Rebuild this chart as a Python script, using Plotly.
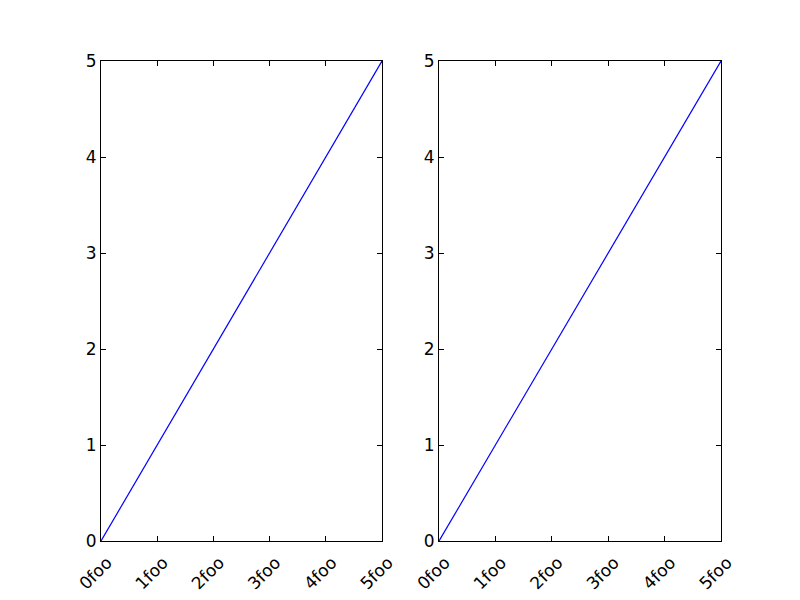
import plotly.graph_objects as go
from plotly.subplots import make_subplots

# Data
x_vals = [0, 1, 2, 3, 4, 5]
y_vals = [0, 1, 2, 3, 4, 5]
tick_labels = ['0foo', '1foo', '2foo', '3foo', '4foo', '5foo']

fig = make_subplots(rows=1, cols=2, horizontal_spacing=0.09)

for col in [1, 2]:
    fig.add_trace(go.Scatter(x=x_vals, y=y_vals, mode='lines',
                             line=dict(color='#0000ff', width=1.2),
                             showlegend=False), row=1, col=col)

axis_style = dict(showline=True, linecolor='black', linewidth=1.2, mirror='ticks',
                  ticks='inside', ticklen=5, tickcolor='black', tickwidth=1,
                  showgrid=False, zeroline=False,
                  tickfont=dict(family='DejaVu Sans', size=17, color='black'))

for col in [1, 2]:
    fig.update_xaxes(range=[0, 5], tickvals=x_vals, ticktext=tick_labels,
                     tickangle=-45, ticklabelshift=6, ticklabelstandoff=4,
                     **axis_style, row=1, col=col)
    fig.update_yaxes(range=[0, 5], tickvals=[0, 1, 2, 3, 4, 5],
                     **axis_style, row=1, col=col)

fig.update_layout(
    width=800, height=600,
    margin=dict(l=93, r=87, t=53, b=67),
    plot_bgcolor='white', paper_bgcolor='white',
    xaxis=dict(domain=[0, 0.4532]),
    xaxis2=dict(domain=[0.5452, 1]),
)

fig.write_html("out.html")
